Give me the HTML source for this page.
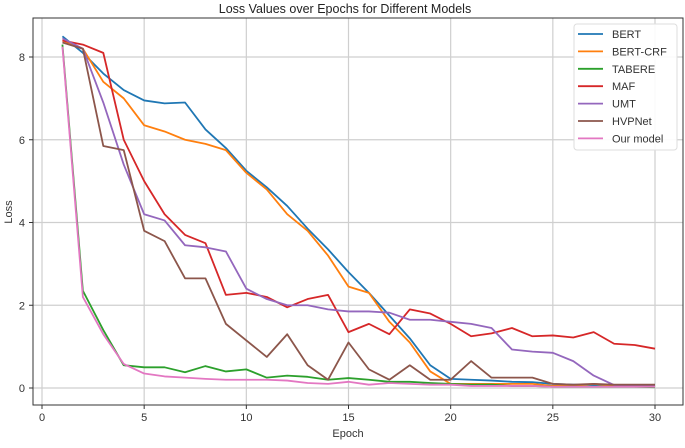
<!DOCTYPE html>
<html><head><meta charset="utf-8"><style>
body{margin:0;background:#fff;font-family:"Liberation Sans","DejaVu Sans",sans-serif}
svg text{font-family:"Liberation Sans","DejaVu Sans",sans-serif}
</style></head><body>
<svg id="chart" width="685" height="443" xmlns="http://www.w3.org/2000/svg"></svg>
<script>
const epochs=[1,2,3,4,5,6,7,8,9,10,11,12,13,14,15,16,17,18,19,20,21,22,23,24,25,26,27,28,29,30];
const seriesNames=["BERT","BERT-CRF","TABERE","MAF","UMT","HVPNet","Our model"];
const bert=[8.5,8.1,7.6,7.2,6.95,6.88,6.9,6.25,5.8,5.25,4.85,4.4,3.85,3.35,2.8,2.3,1.75,1.2,0.55,0.22,0.2,0.18,0.15,0.14,0.1,0.08,0.07,0.05,0.05,0.05];
const bertCrf=[8.4,8.2,7.4,7.0,6.35,6.2,6.0,5.9,5.75,5.2,4.8,4.2,3.8,3.2,2.45,2.3,1.6,1.1,0.4,0.1,0.1,0.1,0.1,0.1,0.05,0.05,0.1,0.05,0.05,0.05];
const tabere=[8.3,2.35,1.4,0.55,0.5,0.5,0.38,0.53,0.4,0.45,0.25,0.3,0.27,0.2,0.24,0.2,0.15,0.15,0.12,0.1,0.08,0.08,0.05,0.05,0.03,0.03,0.03,0.03,0.03,0.02];
const maf=[8.4,8.3,8.1,6.0,5.0,4.2,3.7,3.5,2.25,2.3,2.2,1.95,2.15,2.25,1.35,1.55,1.3,1.9,1.8,1.55,1.25,1.32,1.45,1.25,1.27,1.22,1.35,1.07,1.04,0.95];
const umt=[8.45,8.2,6.9,5.4,4.2,4.05,3.45,3.4,3.3,2.4,2.15,2.0,2.0,1.9,1.85,1.85,1.82,1.65,1.65,1.6,1.55,1.45,0.93,0.88,0.85,0.65,0.3,0.07,0.05,0.05];
const hvpnet=[8.35,8.2,5.85,5.75,3.8,3.55,2.65,2.65,1.55,1.15,0.75,1.3,0.55,0.2,1.1,0.45,0.2,0.55,0.2,0.2,0.65,0.25,0.25,0.25,0.1,0.08,0.1,0.08,0.08,0.08];
const ours=[8.25,2.2,1.3,0.58,0.35,0.28,0.25,0.22,0.2,0.2,0.2,0.18,0.12,0.1,0.15,0.08,0.12,0.1,0.08,0.08,0.05,0.05,0.05,0.05,0.03,0.03,0.03,0.03,0.03,0.03];
const xTicks=[0,5,10,15,20,25,30];
const yTicks=[0,2,4,6,8];
const colors=["#1f77b4","#ff7f0e","#2ca02c","#d62728","#9467bd","#8c564b","#e377c2"];
const allSeries=[bert,bertCrf,tabere,maf,umt,hvpnet,ours];
const NS="http://www.w3.org/2000/svg";
const svg=document.getElementById('chart');
const L=33,R=683,T=18,B=405;
const xs=v=>42+v*(655-42)/30;
const ys=v=>388-v*(388-57)/8;
function mk(tag,attrs,parent){const e=document.createElementNS(NS,tag);for(const k in attrs)e.setAttribute(k,attrs[k]);(parent||svg).appendChild(e);return e;}
const grid=mk('g',{});


xTicks.forEach(t=>{const x=xs(t);
 const l=mk('line',{x1:x,x2:x,y1:T,y2:B,stroke:'#cfcfcf','stroke-width':1.2},grid);
 
 mk('line',{x1:x,x2:x,y1:B,y2:B+4,stroke:'#333'});
 const tx=mk('text',{x:x,y:B+16,'font-size':11,'text-anchor':'middle',fill:'#333'});tx.textContent=t;
 });
yTicks.forEach(t=>{const y=ys(t);
 const l=mk('line',{x1:L,x2:R,y1:y,y2:y,stroke:'#cfcfcf','stroke-width':1.2},grid);
 
 mk('line',{x1:L-4,x2:L,y1:y,y2:y,stroke:'#333'});
 const tx=mk('text',{x:L-8,y:y+4,'font-size':11,'text-anchor':'end',fill:'#333'});tx.textContent=t;
 });
allSeries.forEach((s,i)=>{
 const p=mk('polyline',{points:s.map((v,j)=>xs(epochs[j])+','+ys(v)).join(' '),fill:'none',stroke:colors[i],'stroke-width':1.8,'stroke-linejoin':'round'});
 
 });
const fr=mk('rect',{x:L,y:T,width:R-L,height:B-T,fill:'none',stroke:'#333','stroke-width':1});

const title=mk('text',{x:345,y:13,'font-size':12.5,'text-anchor':'middle',fill:'#222'});title.textContent='Loss Values over Epochs for Different Models';

const xl=mk('text',{x:348,y:437,'font-size':11,'text-anchor':'middle',fill:'#333'});xl.textContent='Epoch';

const yl=mk('text',{x:12,y:212,'font-size':11,'text-anchor':'middle',fill:'#333',transform:'rotate(-90 12 212)'});yl.textContent='Loss';

const lg=mk('g',{});

mk('rect',{x:574,y:24,width:103,height:126,rx:3,fill:'#fff','fill-opacity':0.9,stroke:'#ddd'},lg);
seriesNames.forEach((n,i)=>{const y=34+i*17.4;
 const e=mk('g',{},lg);
 mk('line',{x1:578,x2:603,y1:y,y2:y,stroke:colors[i],'stroke-width':1.8},e);
 const t=mk('text',{x:612,y:y+4,'font-size':11,fill:'#333'},e);t.textContent=n;});
</script>
</body></html>
